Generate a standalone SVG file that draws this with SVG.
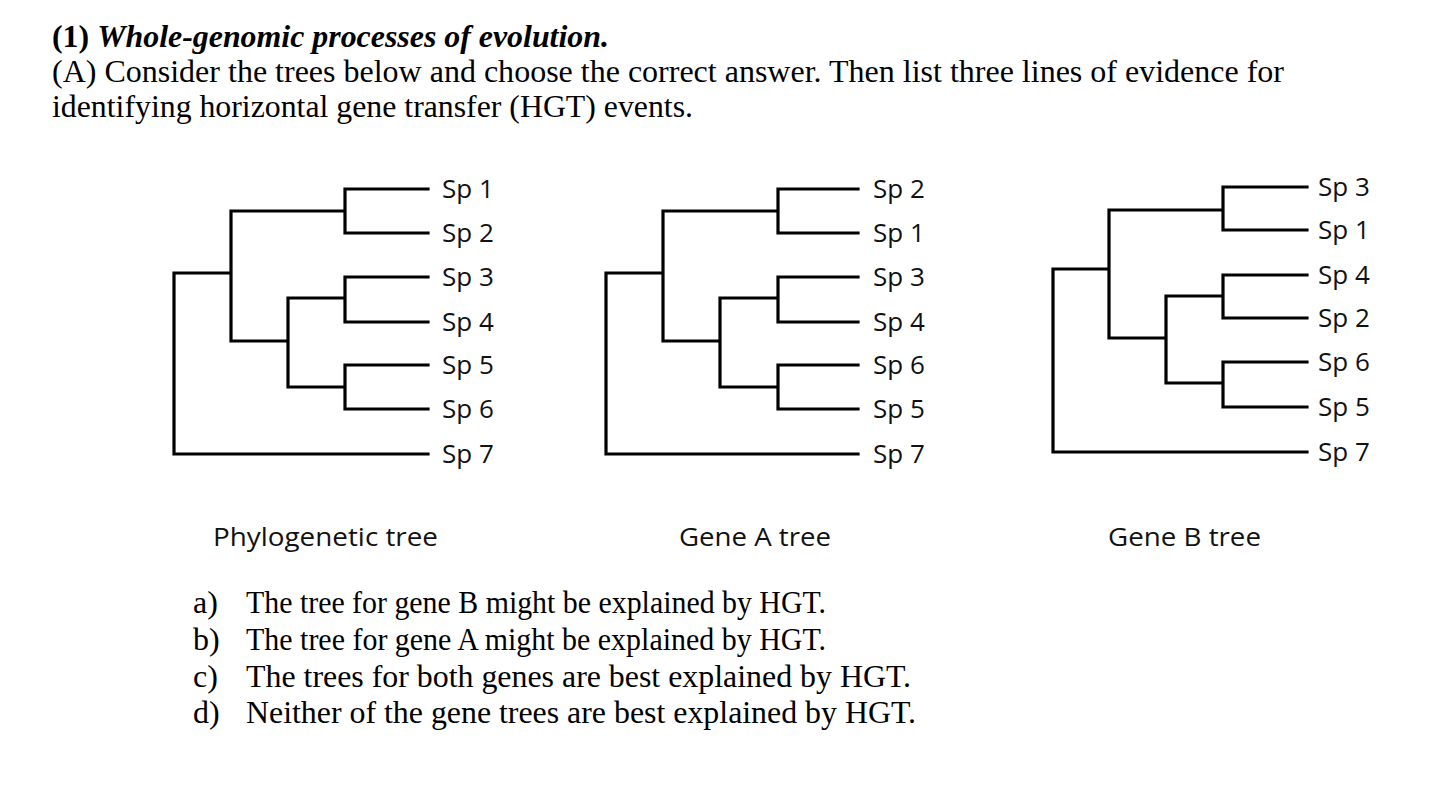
<svg xmlns="http://www.w3.org/2000/svg" width="1456" height="800" viewBox="0 0 1456 800">
<style>
.br{fill:none;stroke:#000;stroke-width:3.2;stroke-linecap:square;stroke-linejoin:miter}
.sp{font-family:"Open Sans","Noto Sans",sans-serif;font-size:26px;fill:#111}
.cap{font-family:"Open Sans","Noto Sans",sans-serif;font-size:26px;fill:#111}
.t{font-family:"Liberation Serif","Times New Roman",serif;font-size:31px;fill:#000}
.o{font-family:"Liberation Serif","Times New Roman",serif;font-size:32px;fill:#000}
</style>
<rect width="1456" height="800" fill="#fff"/>
<g id="header">
<text class="t" x="52" y="47" font-weight="bold" textLength="557" lengthAdjust="spacingAndGlyphs">(1) <tspan font-style="italic">Whole-genomic processes of evolution.</tspan></text>
<text class="t" x="52" y="82" textLength="1232" lengthAdjust="spacingAndGlyphs">(A) Consider the trees below and choose the correct answer. Then list three lines of evidence for</text>
<text class="t" x="52" y="117" textLength="641" lengthAdjust="spacingAndGlyphs">identifying horizontal gene transfer (HGT) events.</text>
</g>
<g id="connectors">
<path class="br" d="M428,189 H345 V233 H428 M345,211 H231 V341 H288 M428,277 H345 V322 H428 M345,298 H288 V387 H345 M428,365 H345 V409 H428 M231,273 H174 V454 H428"/>
<path class="br" d="M858,189 H778 V233 H858 M778,211 H663 V341 H720 M858,277 H778 V322 H858 M778,298 H720 V387 H778 M858,365 H778 V409 H858 M663,273 H606 V454 H858"/>
<path class="br" d="M1307,187 H1223 V230 H1307 M1223,210 H1109 V338 H1166 M1307,275 H1223 V318 H1307 M1223,296 H1166 V383 H1223 M1307,362 H1223 V407 H1307 M1109,269 H1053 V452 H1307"/>
</g>
<g id="tree1">
<text class="sp" x="442" y="198">Sp 1</text>
<text class="sp" x="442" y="242">Sp 2</text>
<text class="sp" x="442" y="286">Sp 3</text>
<text class="sp" x="442" y="331">Sp 4</text>
<text class="sp" x="442" y="374">Sp 5</text>
<text class="sp" x="442" y="418">Sp 6</text>
<text class="sp" x="442" y="463">Sp 7</text>
<text class="cap" x="213" y="546" textLength="225" lengthAdjust="spacingAndGlyphs">Phylogenetic tree</text>
</g>
<g id="tree2">
<text class="sp" x="873" y="198">Sp 2</text>
<text class="sp" x="873" y="242">Sp 1</text>
<text class="sp" x="873" y="286">Sp 3</text>
<text class="sp" x="873" y="331">Sp 4</text>
<text class="sp" x="873" y="374">Sp 6</text>
<text class="sp" x="873" y="418">Sp 5</text>
<text class="sp" x="873" y="463">Sp 7</text>
<text class="cap" x="679" y="546" textLength="152" lengthAdjust="spacingAndGlyphs">Gene A tree</text>
</g>
<g id="tree3">
<text class="sp" x="1318" y="196">Sp 3</text>
<text class="sp" x="1318" y="239">Sp 1</text>
<text class="sp" x="1318" y="284">Sp 4</text>
<text class="sp" x="1318" y="327">Sp 2</text>
<text class="sp" x="1318" y="371">Sp 6</text>
<text class="sp" x="1318" y="416">Sp 5</text>
<text class="sp" x="1318" y="461">Sp 7</text>
<text class="cap" x="1108" y="546" textLength="153" lengthAdjust="spacingAndGlyphs">Gene B tree</text>
</g>
<g id="options">
<text class="o" x="193" y="613">a)</text>
<text class="o" x="246" y="613" textLength="580" lengthAdjust="spacingAndGlyphs">The tree for gene B might be explained by HGT.</text>
<text class="o" x="193" y="650">b)</text>
<text class="o" x="246" y="650" textLength="580" lengthAdjust="spacingAndGlyphs">The tree for gene A might be explained by HGT.</text>
<text class="o" x="193" y="687">c)</text>
<text class="o" x="246" y="687" textLength="665" lengthAdjust="spacingAndGlyphs">The trees for both genes are best explained by HGT.</text>
<text class="o" x="193" y="723">d)</text>
<text class="o" x="246" y="723" textLength="670" lengthAdjust="spacingAndGlyphs">Neither of the gene trees are best explained by HGT.</text>
</g>
</svg>
